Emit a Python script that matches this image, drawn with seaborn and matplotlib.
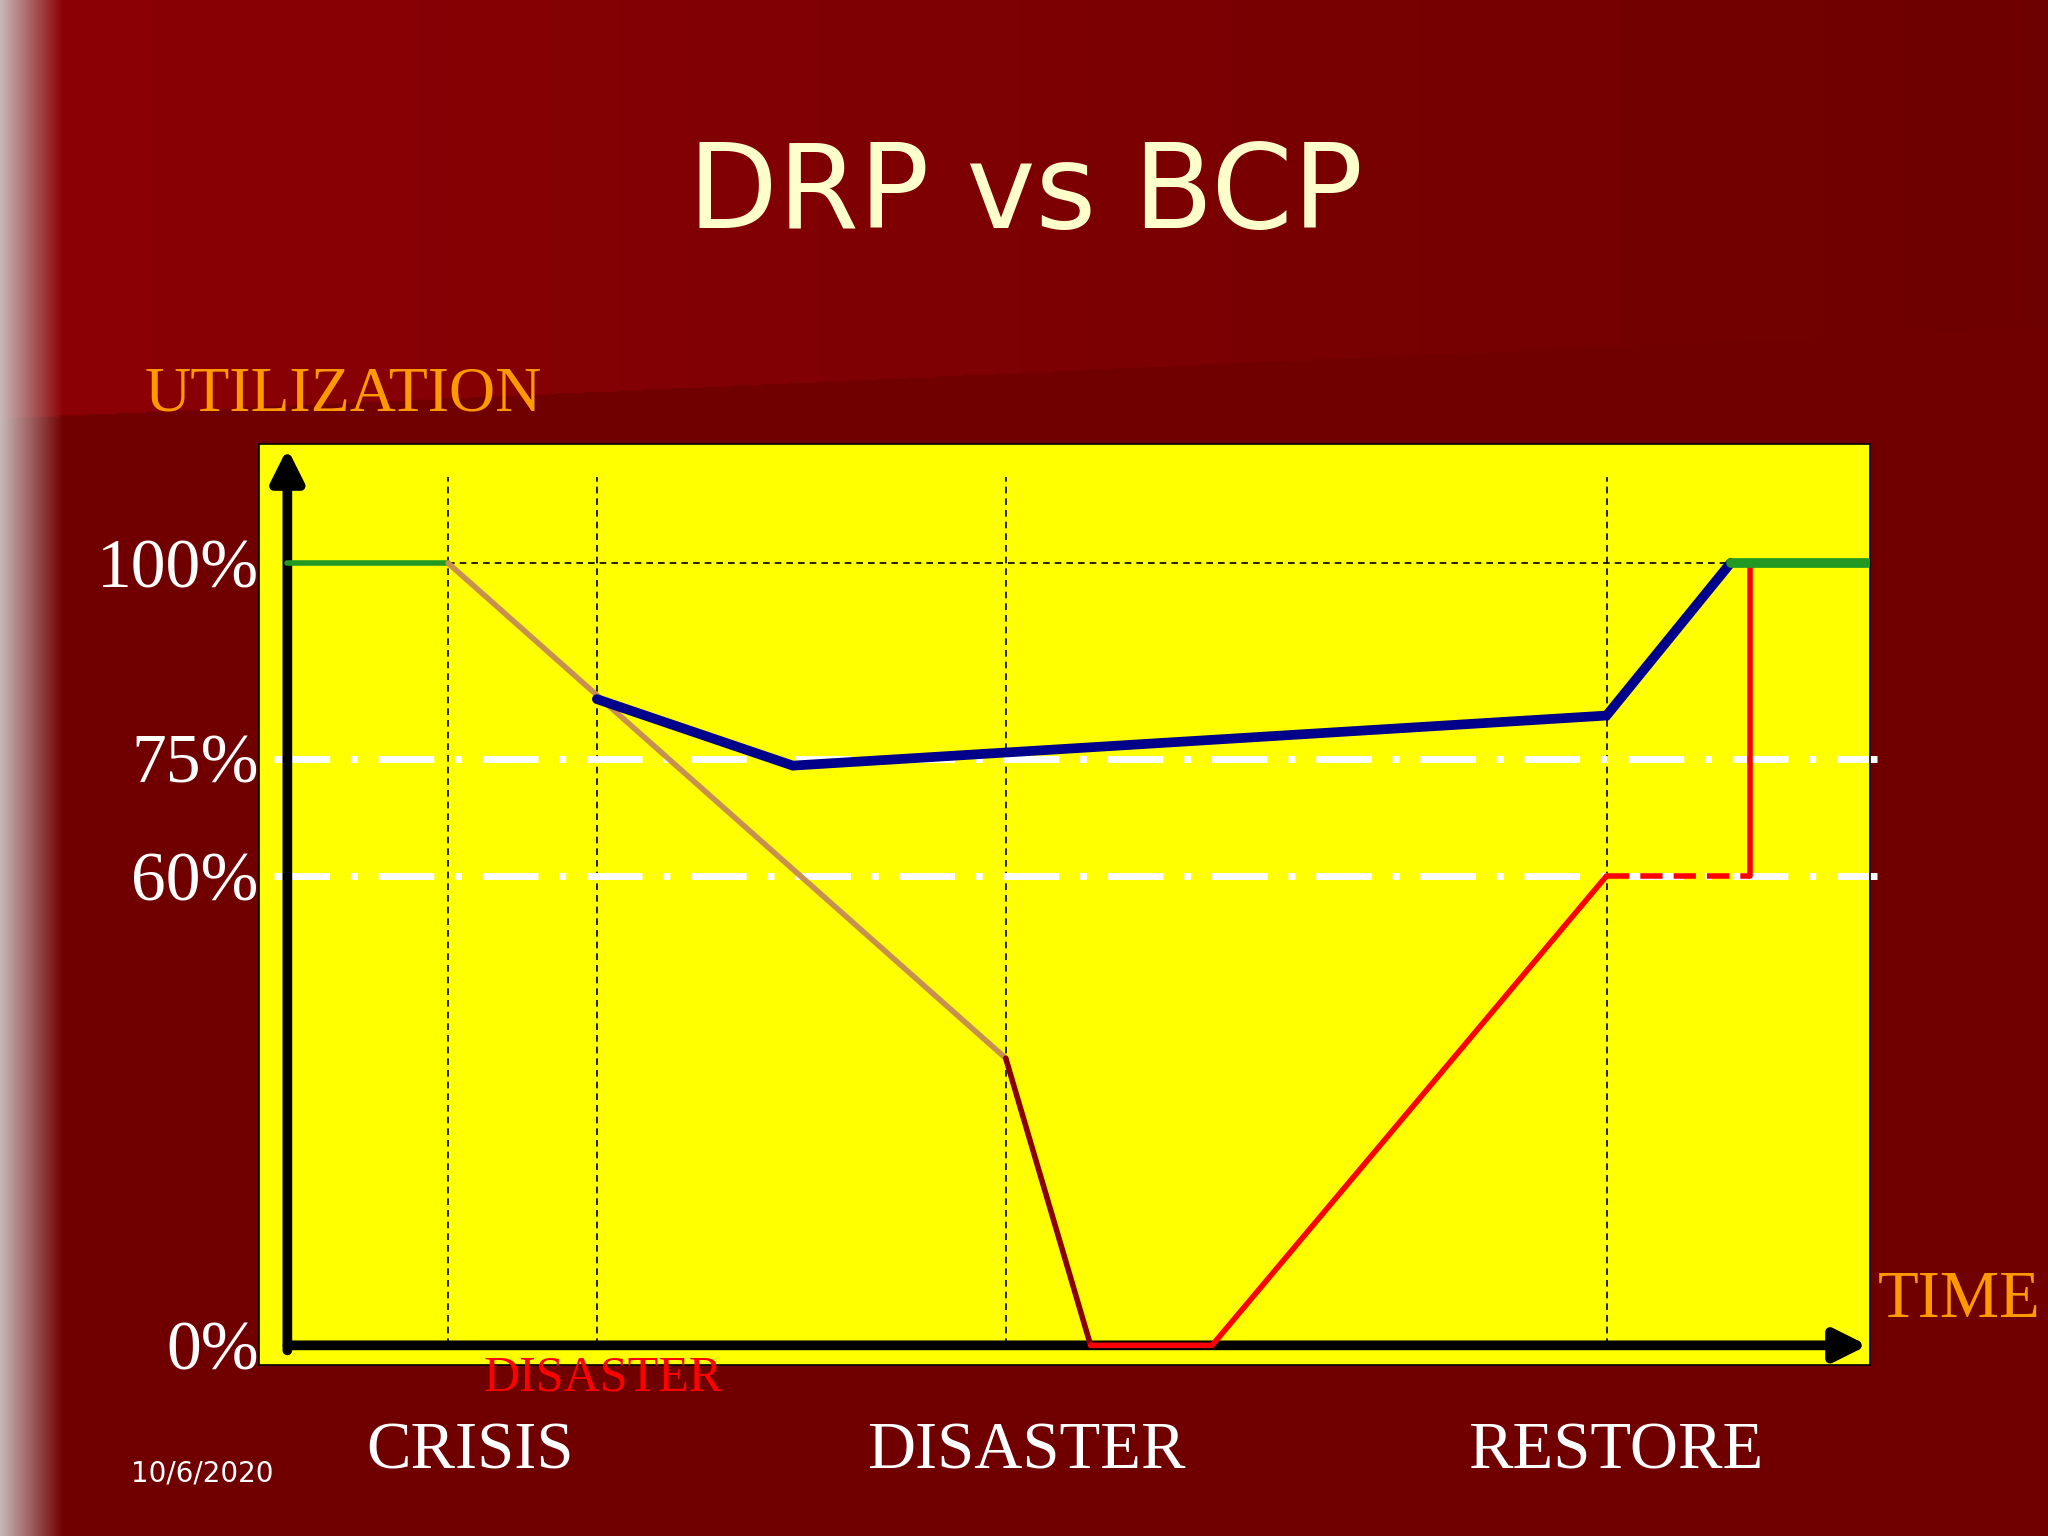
import numpy as np
import pandas as pd
import matplotlib
matplotlib.use("Agg")
import matplotlib.pyplot as plt
import seaborn as sns

sns.set_theme(style="white")
plt.rcParams['font.family'] = ['Liberation Serif', 'DejaVu Serif']

# data (x in time units, y in % utilization)
green_left_x = [220, 343]; green_left_y = [100, 100]
green_right_x = [1325, 1430]; green_right_y = [100, 100]
tan_x = [343, 770]; tan_y = [100, 36.7]
darkred_x = [770, 835]; darkred_y = [36.7, 0]
red_x = [835, 928, 1230]; red_y = [0, 0, 60]
red_dash_x = [1230, 1340]; red_dash_y = [60, 60]
red_vert_x = [1340, 1340]; red_vert_y = [60, 100]
blue_x = [457, 607, 1230, 1325]; blue_y = [82.6, 74.1, 80.5, 100]
phase_x = [343, 457, 770, 1230]
ytick_vals = [0, 60, 75, 100]
ytick_labels = ["0%", "60%", "75%", "100%"]
phases = ["CRISIS", "DISASTER", "RESTORE"]
phase_label_x = [360, 786, 1237]

W, H = 1568, 1176
fig = plt.figure(figsize=(20.48, 15.36), dpi=100)

# background
bg = fig.add_axes([0, 0, 1, 1]); bg.set_axis_off()
img = np.zeros((H, W, 3))
xs = np.linspace(0, 1, W)
top = np.array([0.55, 0.0, 0.02])[None, :] * (1 - xs[:, None]) + np.array([0.43, 0.0, 0.0])[None, :] * xs[:, None]
bottom = np.array([0.44, 0.0, 0.0])
for r in range(H):
    boundary = 320 - 70 * xs
    mask = r < boundary
    img[r] = np.where(mask[:, None], top, bottom)
stripe = np.clip(1 - np.arange(W) / 48.0, 0, 1)
gray = np.array([0.78, 0.72, 0.72])
img = img * (1 - stripe[None, :, None]) + gray[None, None, :] * stripe[None, :, None]
bg.imshow(img, aspect='auto', extent=[0, 1, 0, 1])
bg.set_xlim(0, 1); bg.set_ylim(0, 1)

def fx(px): return px / W
def fy(py): return 1 - py / H

ax = fig.add_axes([fx(198), fy(1045), fx(1432) - fx(198), fy(340) - fy(1045)])
ax.set_facecolor('#ffff00')
for s in ax.spines.values():
    s.set_color('black'); s.set_linewidth(1.2)
ax.set_xlim(198, 1432)
ax.set_ylim(-2.5, 115.2)
ax.set_xticks([])
ax.set_yticks(ytick_vals)
ax.set_yticklabels(ytick_labels, color='white', fontsize=50)
ax.tick_params(axis='y', length=0, pad=0)
for lab in ax.get_yticklabels():
    lab.set_ha('right')

# guide lines
for x in phase_x:
    ax.plot([x, x], [0, 111], color='black', lw=1.2, ls=(0, (4, 3)))
ax.plot([343, 1430], [100, 100], color='black', lw=1.2, ls=(0, (4, 3)))
for yv in [75, 60]:
    ax.plot([210, 1437], [yv, yv], color='white', lw=5, ls=(0, (8, 3, 1, 3)), clip_on=False)

# axes arrows
ax.annotate('', xy=(220, 115), xytext=(220, -1), annotation_clip=False,
            arrowprops=dict(arrowstyle='-|>,head_width=0.8,head_length=1.6', lw=7, color='black'))
ax.annotate('', xy=(1432, 0), xytext=(218, 0), annotation_clip=False,
            arrowprops=dict(arrowstyle='-|>,head_width=0.8,head_length=1.6', lw=7, color='black'))

def line(x, y, color, lw, ls='-'):
    sns.lineplot(x=x, y=y, ax=ax, color=color, lw=lw, ls=ls, sort=False,
                 solid_joinstyle='miter', estimator=None, zorder=5)

line(green_left_x, green_left_y, '#229922', 4)
line(tan_x, tan_y, '#c89050', 4)
line(darkred_x, darkred_y, '#8b0000', 4)
line(red_x, red_y, '#ff0000', 4)
line(red_dash_x, red_dash_y, '#ff0000', 4, (0, (4, 2)))
line(red_vert_x, red_vert_y, '#ff0000', 4)
line(blue_x, blue_y, '#00008b', 7)
line(green_right_x, green_right_y, '#229922', 7)

# texts
fig.text(fx(785), fy(150), "DRP vs BCP", color='#ffffcc', fontsize=84,
         family=['DejaVu Sans'], ha='center', va='center')
fig.text(fx(263), fy(303), "UTILIZATION", color='#ff9900', fontsize=46, ha='center', va='center')
fig.text(fx(1500), fy(996), "TIME", color='#ff9900', fontsize=48, ha='center', va='center')
fig.text(fx(462), fy(1055), "DISASTER", color='#ff0000', fontsize=36, ha='center', va='center')
for lbl, px in zip(phases, phase_label_x):
    fig.text(fx(px), fy(1112), lbl, color='white', fontsize=48, ha='center', va='center')
fig.text(fx(155), fy(1128), "10/6/2020", color='white', fontsize=20,
         family=['DejaVu Sans'], ha='center', va='center')

fig.savefig("out.png", dpi=100)
